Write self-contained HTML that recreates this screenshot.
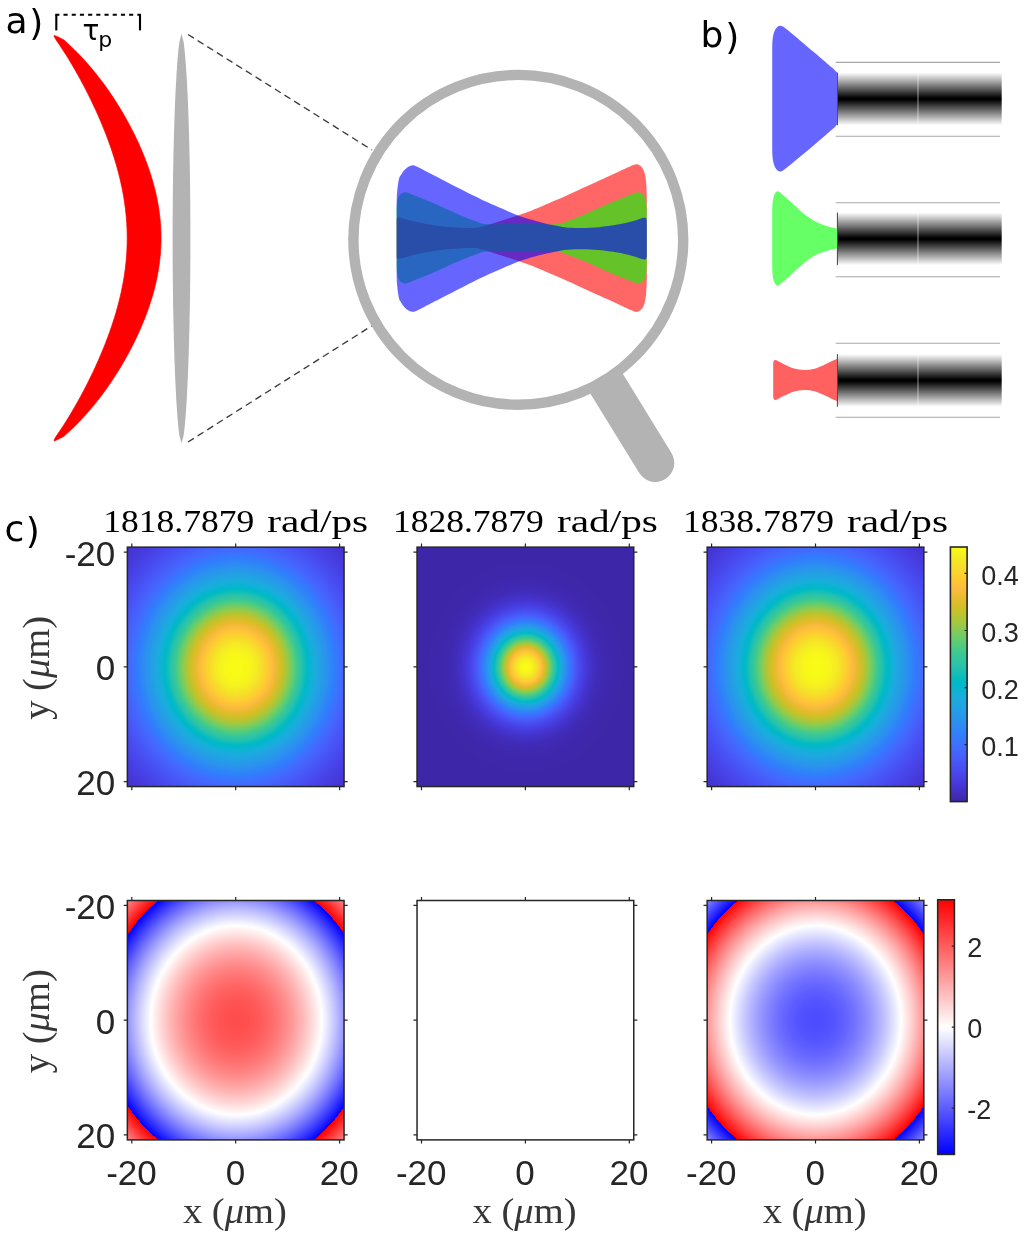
<!DOCTYPE html>
<html><head><meta charset="utf-8"><title>figure</title>
<style>html,body{margin:0;padding:0;background:#fff;overflow:hidden}svg{display:block}text{white-space:pre}</style></head><body>
<svg width="1025" height="1241" viewBox="0 0 1025 1241">
<defs><linearGradient id="fib" x1="0" y1="0" x2="0" y2="1"><stop offset="0" stop-color="#fff"/><stop offset="0.485" stop-color="#000"/><stop offset="0.515" stop-color="#000"/><stop offset="1" stop-color="#fff"/></linearGradient>
<radialGradient id="g0" gradientUnits="userSpaceOnUse" cx="236.3" cy="667.35" r="161.05" gradientTransform="translate(236.3 667.35) scale(1 1.10443) translate(-236.3 -667.35)"><stop offset="0.0000" stop-color="#f9fb15"/><stop offset="0.0083" stop-color="#f9fb15"/><stop offset="0.0167" stop-color="#f9fb15"/><stop offset="0.0250" stop-color="#f9fa15"/><stop offset="0.0333" stop-color="#f9fa16"/><stop offset="0.0417" stop-color="#f9f916"/><stop offset="0.0500" stop-color="#f8f917"/><stop offset="0.0583" stop-color="#f8f817"/><stop offset="0.0667" stop-color="#f8f818"/><stop offset="0.0750" stop-color="#f8f719"/><stop offset="0.0833" stop-color="#f7f51b"/><stop offset="0.0917" stop-color="#f7f41c"/><stop offset="0.1000" stop-color="#f6f21e"/><stop offset="0.1083" stop-color="#f6f020"/><stop offset="0.1167" stop-color="#f5ee21"/><stop offset="0.1250" stop-color="#f5eb23"/><stop offset="0.1333" stop-color="#f5e924"/><stop offset="0.1417" stop-color="#f5e526"/><stop offset="0.1500" stop-color="#f5e228"/><stop offset="0.1583" stop-color="#f6de29"/><stop offset="0.1667" stop-color="#f8d92b"/><stop offset="0.1750" stop-color="#fad52d"/><stop offset="0.1833" stop-color="#fcd12f"/><stop offset="0.1917" stop-color="#fdcd32"/><stop offset="0.2000" stop-color="#fec834"/><stop offset="0.2083" stop-color="#fec438"/><stop offset="0.2167" stop-color="#fec03b"/><stop offset="0.2250" stop-color="#fcbc3d"/><stop offset="0.2333" stop-color="#f7ba3c"/><stop offset="0.2417" stop-color="#f1ba37"/><stop offset="0.2500" stop-color="#ebba31"/><stop offset="0.2583" stop-color="#e4bb2c"/><stop offset="0.2667" stop-color="#ddbd29"/><stop offset="0.2750" stop-color="#d5be28"/><stop offset="0.2833" stop-color="#ccc028"/><stop offset="0.2917" stop-color="#c3c22b"/><stop offset="0.3000" stop-color="#b8c431"/><stop offset="0.3083" stop-color="#adc638"/><stop offset="0.3167" stop-color="#a0c841"/><stop offset="0.3250" stop-color="#93ca4b"/><stop offset="0.3333" stop-color="#85cb55"/><stop offset="0.3417" stop-color="#77cc60"/><stop offset="0.3500" stop-color="#69cd6b"/><stop offset="0.3583" stop-color="#5ccc76"/><stop offset="0.3667" stop-color="#4ecc81"/><stop offset="0.3750" stop-color="#42ca8b"/><stop offset="0.3833" stop-color="#39c895"/><stop offset="0.3917" stop-color="#33c69d"/><stop offset="0.4000" stop-color="#2dc4a5"/><stop offset="0.4083" stop-color="#26c2ac"/><stop offset="0.4167" stop-color="#1cc0b3"/><stop offset="0.4250" stop-color="#10beba"/><stop offset="0.4333" stop-color="#06bcc0"/><stop offset="0.4417" stop-color="#01b9c6"/><stop offset="0.4500" stop-color="#02b7cb"/><stop offset="0.4583" stop-color="#07b5d0"/><stop offset="0.4667" stop-color="#0eb2d4"/><stop offset="0.4750" stop-color="#14b0d8"/><stop offset="0.4833" stop-color="#18addb"/><stop offset="0.4917" stop-color="#1babde"/><stop offset="0.5000" stop-color="#1da8e0"/><stop offset="0.5083" stop-color="#20a5e2"/><stop offset="0.5167" stop-color="#22a2e4"/><stop offset="0.5250" stop-color="#249fe5"/><stop offset="0.5333" stop-color="#259ce7"/><stop offset="0.5417" stop-color="#2699e9"/><stop offset="0.5500" stop-color="#2896eb"/><stop offset="0.5583" stop-color="#2a93ee"/><stop offset="0.5667" stop-color="#2c90f0"/><stop offset="0.5750" stop-color="#2d8cf3"/><stop offset="0.5833" stop-color="#2d89f5"/><stop offset="0.5917" stop-color="#2e85f8"/><stop offset="0.6000" stop-color="#2f82fa"/><stop offset="0.6083" stop-color="#307ffb"/><stop offset="0.6167" stop-color="#327bfc"/><stop offset="0.6250" stop-color="#3678fe"/><stop offset="0.6333" stop-color="#3974fe"/><stop offset="0.6417" stop-color="#3c71ff"/><stop offset="0.6500" stop-color="#3f6eff"/><stop offset="0.6583" stop-color="#416bfe"/><stop offset="0.6667" stop-color="#4369fe"/><stop offset="0.6750" stop-color="#4466fd"/><stop offset="0.6833" stop-color="#4564fd"/><stop offset="0.6917" stop-color="#4561fc"/><stop offset="0.7000" stop-color="#465ffb"/><stop offset="0.7083" stop-color="#465dfa"/><stop offset="0.7167" stop-color="#475bf9"/><stop offset="0.7250" stop-color="#4759f8"/><stop offset="0.7333" stop-color="#4756f7"/><stop offset="0.7417" stop-color="#4854f6"/><stop offset="0.7500" stop-color="#4852f4"/><stop offset="0.7583" stop-color="#4851f3"/><stop offset="0.7667" stop-color="#484ff2"/><stop offset="0.7750" stop-color="#484df0"/><stop offset="0.7833" stop-color="#484bef"/><stop offset="0.7917" stop-color="#4849ed"/><stop offset="0.8000" stop-color="#4848ec"/><stop offset="0.8083" stop-color="#4746ea"/><stop offset="0.8167" stop-color="#4745e9"/><stop offset="0.8250" stop-color="#4743e7"/><stop offset="0.8333" stop-color="#4742e6"/><stop offset="0.8417" stop-color="#4740e4"/><stop offset="0.8500" stop-color="#473fe2"/><stop offset="0.8583" stop-color="#463ee1"/><stop offset="0.8667" stop-color="#463cdf"/><stop offset="0.8750" stop-color="#463bdd"/><stop offset="0.8833" stop-color="#463adb"/><stop offset="0.8917" stop-color="#4639d9"/><stop offset="0.9000" stop-color="#4538d7"/><stop offset="0.9083" stop-color="#4537d6"/><stop offset="0.9167" stop-color="#4536d4"/><stop offset="0.9250" stop-color="#4535d2"/><stop offset="0.9333" stop-color="#4435d0"/><stop offset="0.9417" stop-color="#4434ce"/><stop offset="0.9500" stop-color="#4433cd"/><stop offset="0.9583" stop-color="#4433cb"/><stop offset="0.9667" stop-color="#4332ca"/><stop offset="0.9750" stop-color="#4331c8"/><stop offset="0.9833" stop-color="#4331c7"/><stop offset="0.9917" stop-color="#4330c5"/><stop offset="1.0000" stop-color="#4230c4"/></radialGradient>
<radialGradient id="g1" gradientUnits="userSpaceOnUse" cx="526" cy="667.15" r="161.05" gradientTransform="translate(526 667.15) scale(1 1.07500) translate(-526 -667.15)"><stop offset="0.0000" stop-color="#f9fb15"/><stop offset="0.0083" stop-color="#f9fb15"/><stop offset="0.0167" stop-color="#f9fb15"/><stop offset="0.0250" stop-color="#f8f917"/><stop offset="0.0333" stop-color="#f7f51b"/><stop offset="0.0417" stop-color="#f6f11f"/><stop offset="0.0500" stop-color="#f5eb23"/><stop offset="0.0583" stop-color="#f5e526"/><stop offset="0.0667" stop-color="#f6de29"/><stop offset="0.0750" stop-color="#fad52d"/><stop offset="0.0833" stop-color="#fdcc32"/><stop offset="0.0917" stop-color="#fec338"/><stop offset="0.1000" stop-color="#fabb3d"/><stop offset="0.1083" stop-color="#ecba32"/><stop offset="0.1167" stop-color="#dabd28"/><stop offset="0.1250" stop-color="#c5c22a"/><stop offset="0.1333" stop-color="#acc739"/><stop offset="0.1417" stop-color="#91ca4d"/><stop offset="0.1500" stop-color="#73cd62"/><stop offset="0.1583" stop-color="#59cc79"/><stop offset="0.1667" stop-color="#41ca8c"/><stop offset="0.1750" stop-color="#32c69e"/><stop offset="0.1833" stop-color="#26c2ad"/><stop offset="0.1917" stop-color="#0fbebb"/><stop offset="0.2000" stop-color="#01b9c7"/><stop offset="0.2083" stop-color="#0cb3d3"/><stop offset="0.2167" stop-color="#19acdd"/><stop offset="0.2250" stop-color="#20a4e3"/><stop offset="0.2333" stop-color="#259ce7"/><stop offset="0.2417" stop-color="#2995ec"/><stop offset="0.2500" stop-color="#2d8df3"/><stop offset="0.2583" stop-color="#2e84f8"/><stop offset="0.2667" stop-color="#327cfc"/><stop offset="0.2750" stop-color="#3974fe"/><stop offset="0.2833" stop-color="#406cfe"/><stop offset="0.2917" stop-color="#4465fd"/><stop offset="0.3000" stop-color="#465ffb"/><stop offset="0.3083" stop-color="#4759f8"/><stop offset="0.3167" stop-color="#4853f5"/><stop offset="0.3250" stop-color="#484ef1"/><stop offset="0.3333" stop-color="#484aed"/><stop offset="0.3417" stop-color="#4745e9"/><stop offset="0.3500" stop-color="#4741e5"/><stop offset="0.3583" stop-color="#463ee1"/><stop offset="0.3667" stop-color="#463bdc"/><stop offset="0.3750" stop-color="#4538d7"/><stop offset="0.3833" stop-color="#4536d3"/><stop offset="0.3917" stop-color="#4434ce"/><stop offset="0.4000" stop-color="#4332ca"/><stop offset="0.4083" stop-color="#4331c6"/><stop offset="0.4167" stop-color="#422fc2"/><stop offset="0.4250" stop-color="#422ebf"/><stop offset="0.4333" stop-color="#412dbc"/><stop offset="0.4417" stop-color="#412cba"/><stop offset="0.4500" stop-color="#402bb8"/><stop offset="0.4583" stop-color="#402bb6"/><stop offset="0.4667" stop-color="#402ab4"/><stop offset="0.4750" stop-color="#3f29b2"/><stop offset="0.4833" stop-color="#3f29b1"/><stop offset="0.4917" stop-color="#3f29b0"/><stop offset="0.5000" stop-color="#3f28ae"/><stop offset="0.5083" stop-color="#3f28ae"/><stop offset="0.5167" stop-color="#3f28ad"/><stop offset="0.5250" stop-color="#3e27ac"/><stop offset="0.5333" stop-color="#3e27ab"/><stop offset="0.5417" stop-color="#3e27ab"/><stop offset="0.5500" stop-color="#3e27aa"/><stop offset="0.5583" stop-color="#3e27aa"/><stop offset="0.5667" stop-color="#3e27aa"/><stop offset="0.5750" stop-color="#3e27aa"/><stop offset="0.5833" stop-color="#3e27a9"/><stop offset="0.5917" stop-color="#3e27a9"/><stop offset="0.6000" stop-color="#3e27a9"/><stop offset="0.6083" stop-color="#3e26a9"/><stop offset="0.6167" stop-color="#3e26a9"/><stop offset="0.6250" stop-color="#3e26a9"/><stop offset="0.6333" stop-color="#3e26a9"/><stop offset="0.6417" stop-color="#3e26a8"/><stop offset="0.6500" stop-color="#3e26a8"/><stop offset="0.6583" stop-color="#3e26a8"/><stop offset="0.6667" stop-color="#3e26a8"/><stop offset="0.6750" stop-color="#3e26a8"/><stop offset="0.6833" stop-color="#3e26a8"/><stop offset="0.6917" stop-color="#3e26a8"/><stop offset="0.7000" stop-color="#3e26a8"/><stop offset="0.7083" stop-color="#3e26a8"/><stop offset="0.7167" stop-color="#3e26a8"/><stop offset="0.7250" stop-color="#3e26a8"/><stop offset="0.7333" stop-color="#3e26a8"/><stop offset="0.7417" stop-color="#3e26a8"/><stop offset="0.7500" stop-color="#3e26a8"/><stop offset="0.7583" stop-color="#3e26a8"/><stop offset="0.7667" stop-color="#3e26a8"/><stop offset="0.7750" stop-color="#3e26a8"/><stop offset="0.7833" stop-color="#3e26a8"/><stop offset="0.7917" stop-color="#3e26a8"/><stop offset="0.8000" stop-color="#3e26a8"/><stop offset="0.8083" stop-color="#3e26a8"/><stop offset="0.8167" stop-color="#3e26a8"/><stop offset="0.8250" stop-color="#3e26a8"/><stop offset="0.8333" stop-color="#3e26a8"/><stop offset="0.8417" stop-color="#3e26a8"/><stop offset="0.8500" stop-color="#3e26a8"/><stop offset="0.8583" stop-color="#3e26a8"/><stop offset="0.8667" stop-color="#3e26a8"/><stop offset="0.8750" stop-color="#3e26a8"/><stop offset="0.8833" stop-color="#3e26a8"/><stop offset="0.8917" stop-color="#3e26a8"/><stop offset="0.9000" stop-color="#3e26a8"/><stop offset="0.9083" stop-color="#3e26a8"/><stop offset="0.9167" stop-color="#3e26a8"/><stop offset="0.9250" stop-color="#3e26a8"/><stop offset="0.9333" stop-color="#3e26a8"/><stop offset="0.9417" stop-color="#3e26a8"/><stop offset="0.9500" stop-color="#3e26a8"/><stop offset="0.9583" stop-color="#3e26a8"/><stop offset="0.9667" stop-color="#3e26a8"/><stop offset="0.9750" stop-color="#3e26a8"/><stop offset="0.9833" stop-color="#3e26a8"/><stop offset="0.9917" stop-color="#3e26a8"/><stop offset="1.0000" stop-color="#3e26a8"/></radialGradient>
<radialGradient id="g2" gradientUnits="userSpaceOnUse" cx="816" cy="666.65" r="161.05" gradientTransform="translate(816 666.65) scale(1 1.10443) translate(-816 -666.65)"><stop offset="0.0000" stop-color="#f9fb15"/><stop offset="0.0083" stop-color="#f9fb15"/><stop offset="0.0167" stop-color="#f9fb15"/><stop offset="0.0250" stop-color="#f9fa15"/><stop offset="0.0333" stop-color="#f9fa16"/><stop offset="0.0417" stop-color="#f9f916"/><stop offset="0.0500" stop-color="#f8f917"/><stop offset="0.0583" stop-color="#f8f817"/><stop offset="0.0667" stop-color="#f8f818"/><stop offset="0.0750" stop-color="#f8f719"/><stop offset="0.0833" stop-color="#f7f51b"/><stop offset="0.0917" stop-color="#f7f41c"/><stop offset="0.1000" stop-color="#f6f21e"/><stop offset="0.1083" stop-color="#f6f020"/><stop offset="0.1167" stop-color="#f5ee21"/><stop offset="0.1250" stop-color="#f5eb23"/><stop offset="0.1333" stop-color="#f5e924"/><stop offset="0.1417" stop-color="#f5e526"/><stop offset="0.1500" stop-color="#f5e228"/><stop offset="0.1583" stop-color="#f6de29"/><stop offset="0.1667" stop-color="#f8d92b"/><stop offset="0.1750" stop-color="#fad52d"/><stop offset="0.1833" stop-color="#fcd12f"/><stop offset="0.1917" stop-color="#fdcd32"/><stop offset="0.2000" stop-color="#fec834"/><stop offset="0.2083" stop-color="#fec438"/><stop offset="0.2167" stop-color="#fec03b"/><stop offset="0.2250" stop-color="#fcbc3d"/><stop offset="0.2333" stop-color="#f7ba3c"/><stop offset="0.2417" stop-color="#f1ba37"/><stop offset="0.2500" stop-color="#ebba31"/><stop offset="0.2583" stop-color="#e4bb2c"/><stop offset="0.2667" stop-color="#ddbd29"/><stop offset="0.2750" stop-color="#d5be28"/><stop offset="0.2833" stop-color="#ccc028"/><stop offset="0.2917" stop-color="#c3c22b"/><stop offset="0.3000" stop-color="#b8c431"/><stop offset="0.3083" stop-color="#adc638"/><stop offset="0.3167" stop-color="#a0c841"/><stop offset="0.3250" stop-color="#93ca4b"/><stop offset="0.3333" stop-color="#85cb55"/><stop offset="0.3417" stop-color="#77cc60"/><stop offset="0.3500" stop-color="#69cd6b"/><stop offset="0.3583" stop-color="#5ccc76"/><stop offset="0.3667" stop-color="#4ecc81"/><stop offset="0.3750" stop-color="#42ca8b"/><stop offset="0.3833" stop-color="#39c895"/><stop offset="0.3917" stop-color="#33c69d"/><stop offset="0.4000" stop-color="#2dc4a5"/><stop offset="0.4083" stop-color="#26c2ac"/><stop offset="0.4167" stop-color="#1cc0b3"/><stop offset="0.4250" stop-color="#10beba"/><stop offset="0.4333" stop-color="#06bcc0"/><stop offset="0.4417" stop-color="#01b9c6"/><stop offset="0.4500" stop-color="#02b7cb"/><stop offset="0.4583" stop-color="#07b5d0"/><stop offset="0.4667" stop-color="#0eb2d4"/><stop offset="0.4750" stop-color="#14b0d8"/><stop offset="0.4833" stop-color="#18addb"/><stop offset="0.4917" stop-color="#1babde"/><stop offset="0.5000" stop-color="#1da8e0"/><stop offset="0.5083" stop-color="#20a5e2"/><stop offset="0.5167" stop-color="#22a2e4"/><stop offset="0.5250" stop-color="#249fe5"/><stop offset="0.5333" stop-color="#259ce7"/><stop offset="0.5417" stop-color="#2699e9"/><stop offset="0.5500" stop-color="#2896eb"/><stop offset="0.5583" stop-color="#2a93ee"/><stop offset="0.5667" stop-color="#2c90f0"/><stop offset="0.5750" stop-color="#2d8cf3"/><stop offset="0.5833" stop-color="#2d89f5"/><stop offset="0.5917" stop-color="#2e85f8"/><stop offset="0.6000" stop-color="#2f82fa"/><stop offset="0.6083" stop-color="#307ffb"/><stop offset="0.6167" stop-color="#327bfc"/><stop offset="0.6250" stop-color="#3678fe"/><stop offset="0.6333" stop-color="#3974fe"/><stop offset="0.6417" stop-color="#3c71ff"/><stop offset="0.6500" stop-color="#3f6eff"/><stop offset="0.6583" stop-color="#416bfe"/><stop offset="0.6667" stop-color="#4369fe"/><stop offset="0.6750" stop-color="#4466fd"/><stop offset="0.6833" stop-color="#4564fd"/><stop offset="0.6917" stop-color="#4561fc"/><stop offset="0.7000" stop-color="#465ffb"/><stop offset="0.7083" stop-color="#465dfa"/><stop offset="0.7167" stop-color="#475bf9"/><stop offset="0.7250" stop-color="#4759f8"/><stop offset="0.7333" stop-color="#4756f7"/><stop offset="0.7417" stop-color="#4854f6"/><stop offset="0.7500" stop-color="#4852f4"/><stop offset="0.7583" stop-color="#4851f3"/><stop offset="0.7667" stop-color="#484ff2"/><stop offset="0.7750" stop-color="#484df0"/><stop offset="0.7833" stop-color="#484bef"/><stop offset="0.7917" stop-color="#4849ed"/><stop offset="0.8000" stop-color="#4848ec"/><stop offset="0.8083" stop-color="#4746ea"/><stop offset="0.8167" stop-color="#4745e9"/><stop offset="0.8250" stop-color="#4743e7"/><stop offset="0.8333" stop-color="#4742e6"/><stop offset="0.8417" stop-color="#4740e4"/><stop offset="0.8500" stop-color="#473fe2"/><stop offset="0.8583" stop-color="#463ee1"/><stop offset="0.8667" stop-color="#463cdf"/><stop offset="0.8750" stop-color="#463bdd"/><stop offset="0.8833" stop-color="#463adb"/><stop offset="0.8917" stop-color="#4639d9"/><stop offset="0.9000" stop-color="#4538d7"/><stop offset="0.9083" stop-color="#4537d6"/><stop offset="0.9167" stop-color="#4536d4"/><stop offset="0.9250" stop-color="#4535d2"/><stop offset="0.9333" stop-color="#4435d0"/><stop offset="0.9417" stop-color="#4434ce"/><stop offset="0.9500" stop-color="#4433cd"/><stop offset="0.9583" stop-color="#4433cb"/><stop offset="0.9667" stop-color="#4332ca"/><stop offset="0.9750" stop-color="#4331c8"/><stop offset="0.9833" stop-color="#4331c7"/><stop offset="0.9917" stop-color="#4330c5"/><stop offset="1.0000" stop-color="#4230c4"/></radialGradient>
<radialGradient id="p0" gradientUnits="userSpaceOnUse" cx="236.2" cy="1020.2" r="161.05" gradientTransform="translate(236.2 1020.2) scale(1 1.10443) translate(-236.2 -1020.2)"><stop offset="0.0000" stop-color="#ff4d4d"/><stop offset="0.0083" stop-color="#ff4d4d"/><stop offset="0.0167" stop-color="#ff4d4d"/><stop offset="0.0250" stop-color="#ff4d4d"/><stop offset="0.0333" stop-color="#ff4e4e"/><stop offset="0.0417" stop-color="#ff4e4e"/><stop offset="0.0500" stop-color="#ff4e4e"/><stop offset="0.0583" stop-color="#ff4f4f"/><stop offset="0.0667" stop-color="#ff5050"/><stop offset="0.0750" stop-color="#ff5050"/><stop offset="0.0833" stop-color="#ff5151"/><stop offset="0.0917" stop-color="#ff5252"/><stop offset="0.1000" stop-color="#ff5353"/><stop offset="0.1083" stop-color="#ff5454"/><stop offset="0.1167" stop-color="#ff5555"/><stop offset="0.1250" stop-color="#ff5757"/><stop offset="0.1333" stop-color="#ff5858"/><stop offset="0.1417" stop-color="#ff5a5a"/><stop offset="0.1500" stop-color="#ff5b5b"/><stop offset="0.1583" stop-color="#ff5d5d"/><stop offset="0.1667" stop-color="#ff5e5e"/><stop offset="0.1750" stop-color="#ff6060"/><stop offset="0.1833" stop-color="#ff6262"/><stop offset="0.1917" stop-color="#ff6464"/><stop offset="0.2000" stop-color="#ff6666"/><stop offset="0.2083" stop-color="#ff6868"/><stop offset="0.2167" stop-color="#ff6b6b"/><stop offset="0.2250" stop-color="#ff6d6d"/><stop offset="0.2333" stop-color="#ff6f6f"/><stop offset="0.2417" stop-color="#ff7272"/><stop offset="0.2500" stop-color="#ff7474"/><stop offset="0.2583" stop-color="#ff7777"/><stop offset="0.2667" stop-color="#ff7a7a"/><stop offset="0.2750" stop-color="#ff7d7d"/><stop offset="0.2833" stop-color="#ff8080"/><stop offset="0.2917" stop-color="#ff8383"/><stop offset="0.3000" stop-color="#ff8686"/><stop offset="0.3083" stop-color="#ff8989"/><stop offset="0.3167" stop-color="#ff8c8c"/><stop offset="0.3250" stop-color="#ff9090"/><stop offset="0.3333" stop-color="#ff9393"/><stop offset="0.3417" stop-color="#ff9797"/><stop offset="0.3500" stop-color="#ff9a9a"/><stop offset="0.3583" stop-color="#ff9e9e"/><stop offset="0.3667" stop-color="#ffa2a2"/><stop offset="0.3750" stop-color="#ffa6a6"/><stop offset="0.3833" stop-color="#ffaaaa"/><stop offset="0.3917" stop-color="#ffaeae"/><stop offset="0.4000" stop-color="#ffb2b2"/><stop offset="0.4083" stop-color="#ffb6b6"/><stop offset="0.4167" stop-color="#ffbbbb"/><stop offset="0.4250" stop-color="#ffbfbf"/><stop offset="0.4333" stop-color="#ffc4c4"/><stop offset="0.4417" stop-color="#ffc8c8"/><stop offset="0.4500" stop-color="#ffcdcd"/><stop offset="0.4583" stop-color="#ffd2d2"/><stop offset="0.4667" stop-color="#ffd7d7"/><stop offset="0.4750" stop-color="#ffdcdc"/><stop offset="0.4833" stop-color="#ffe1e1"/><stop offset="0.4917" stop-color="#ffe6e6"/><stop offset="0.5000" stop-color="#ffebeb"/><stop offset="0.5083" stop-color="#fff0f0"/><stop offset="0.5167" stop-color="#fff6f6"/><stop offset="0.5250" stop-color="#fffbfb"/><stop offset="0.5333" stop-color="#fdfdff"/><stop offset="0.5417" stop-color="#f8f8ff"/><stop offset="0.5500" stop-color="#f2f2ff"/><stop offset="0.5583" stop-color="#ececff"/><stop offset="0.5667" stop-color="#e6e6ff"/><stop offset="0.5750" stop-color="#e0e0ff"/><stop offset="0.5833" stop-color="#dadaff"/><stop offset="0.5917" stop-color="#d4d4ff"/><stop offset="0.6000" stop-color="#cdcdff"/><stop offset="0.6083" stop-color="#c7c7ff"/><stop offset="0.6167" stop-color="#c1c1ff"/><stop offset="0.6250" stop-color="#babaff"/><stop offset="0.6333" stop-color="#b3b3ff"/><stop offset="0.6417" stop-color="#adadff"/><stop offset="0.6500" stop-color="#a6a6ff"/><stop offset="0.6583" stop-color="#9f9fff"/><stop offset="0.6667" stop-color="#9898ff"/><stop offset="0.6750" stop-color="#9191ff"/><stop offset="0.6833" stop-color="#8a8aff"/><stop offset="0.6917" stop-color="#8282ff"/><stop offset="0.7000" stop-color="#7b7bff"/><stop offset="0.7083" stop-color="#7474ff"/><stop offset="0.7167" stop-color="#6c6cff"/><stop offset="0.7250" stop-color="#6565ff"/><stop offset="0.7333" stop-color="#5d5dff"/><stop offset="0.7417" stop-color="#5555ff"/><stop offset="0.7500" stop-color="#4d4dff"/><stop offset="0.7583" stop-color="#4545ff"/><stop offset="0.7667" stop-color="#3d3dff"/><stop offset="0.7750" stop-color="#3535ff"/><stop offset="0.7833" stop-color="#2d2dff"/><stop offset="0.7917" stop-color="#2525ff"/><stop offset="0.8000" stop-color="#1c1cff"/><stop offset="0.8083" stop-color="#1414ff"/><stop offset="0.8167" stop-color="#0b0bff"/><stop offset="0.8250" stop-color="#0303ff"/><stop offset="0.8269" stop-color="#0000ff"/><stop offset="0.8279" stop-color="#ff0000"/><stop offset="0.8333" stop-color="#ff0606"/><stop offset="0.8417" stop-color="#ff0f0f"/><stop offset="0.8500" stop-color="#ff1818"/><stop offset="0.8583" stop-color="#ff2121"/><stop offset="0.8667" stop-color="#ff2a2a"/><stop offset="0.8750" stop-color="#ff3333"/><stop offset="0.8833" stop-color="#ff3d3d"/><stop offset="0.8917" stop-color="#ff4646"/><stop offset="0.9000" stop-color="#ff4f4f"/><stop offset="0.9083" stop-color="#ff5959"/><stop offset="0.9167" stop-color="#ff6262"/><stop offset="0.9250" stop-color="#ff6c6c"/><stop offset="0.9333" stop-color="#ff7676"/><stop offset="0.9417" stop-color="#ff8080"/><stop offset="0.9500" stop-color="#ff8a8a"/><stop offset="0.9583" stop-color="#ff9494"/><stop offset="0.9667" stop-color="#ff9e9e"/><stop offset="0.9750" stop-color="#ffa8a8"/><stop offset="0.9833" stop-color="#ffb3b3"/><stop offset="0.9917" stop-color="#ffbdbd"/><stop offset="1.0000" stop-color="#ffc8c8"/></radialGradient>
<radialGradient id="p2" gradientUnits="userSpaceOnUse" cx="815.5" cy="1020.2" r="161.05" gradientTransform="translate(815.5 1020.2) scale(1 1.10443) translate(-815.5 -1020.2)"><stop offset="0.0000" stop-color="#4d4dff"/><stop offset="0.0083" stop-color="#4d4dff"/><stop offset="0.0167" stop-color="#4d4dff"/><stop offset="0.0250" stop-color="#4d4dff"/><stop offset="0.0333" stop-color="#4e4eff"/><stop offset="0.0417" stop-color="#4e4eff"/><stop offset="0.0500" stop-color="#4e4eff"/><stop offset="0.0583" stop-color="#4f4fff"/><stop offset="0.0667" stop-color="#5050ff"/><stop offset="0.0750" stop-color="#5050ff"/><stop offset="0.0833" stop-color="#5151ff"/><stop offset="0.0917" stop-color="#5252ff"/><stop offset="0.1000" stop-color="#5353ff"/><stop offset="0.1083" stop-color="#5454ff"/><stop offset="0.1167" stop-color="#5555ff"/><stop offset="0.1250" stop-color="#5757ff"/><stop offset="0.1333" stop-color="#5858ff"/><stop offset="0.1417" stop-color="#5a5aff"/><stop offset="0.1500" stop-color="#5b5bff"/><stop offset="0.1583" stop-color="#5d5dff"/><stop offset="0.1667" stop-color="#5e5eff"/><stop offset="0.1750" stop-color="#6060ff"/><stop offset="0.1833" stop-color="#6262ff"/><stop offset="0.1917" stop-color="#6464ff"/><stop offset="0.2000" stop-color="#6666ff"/><stop offset="0.2083" stop-color="#6868ff"/><stop offset="0.2167" stop-color="#6b6bff"/><stop offset="0.2250" stop-color="#6d6dff"/><stop offset="0.2333" stop-color="#6f6fff"/><stop offset="0.2417" stop-color="#7272ff"/><stop offset="0.2500" stop-color="#7474ff"/><stop offset="0.2583" stop-color="#7777ff"/><stop offset="0.2667" stop-color="#7a7aff"/><stop offset="0.2750" stop-color="#7d7dff"/><stop offset="0.2833" stop-color="#8080ff"/><stop offset="0.2917" stop-color="#8383ff"/><stop offset="0.3000" stop-color="#8686ff"/><stop offset="0.3083" stop-color="#8989ff"/><stop offset="0.3167" stop-color="#8c8cff"/><stop offset="0.3250" stop-color="#9090ff"/><stop offset="0.3333" stop-color="#9393ff"/><stop offset="0.3417" stop-color="#9797ff"/><stop offset="0.3500" stop-color="#9a9aff"/><stop offset="0.3583" stop-color="#9e9eff"/><stop offset="0.3667" stop-color="#a2a2ff"/><stop offset="0.3750" stop-color="#a6a6ff"/><stop offset="0.3833" stop-color="#aaaaff"/><stop offset="0.3917" stop-color="#aeaeff"/><stop offset="0.4000" stop-color="#b2b2ff"/><stop offset="0.4083" stop-color="#b6b6ff"/><stop offset="0.4167" stop-color="#bbbbff"/><stop offset="0.4250" stop-color="#bfbfff"/><stop offset="0.4333" stop-color="#c4c4ff"/><stop offset="0.4417" stop-color="#c8c8ff"/><stop offset="0.4500" stop-color="#cdcdff"/><stop offset="0.4583" stop-color="#d2d2ff"/><stop offset="0.4667" stop-color="#d7d7ff"/><stop offset="0.4750" stop-color="#dcdcff"/><stop offset="0.4833" stop-color="#e1e1ff"/><stop offset="0.4917" stop-color="#e6e6ff"/><stop offset="0.5000" stop-color="#ebebff"/><stop offset="0.5083" stop-color="#f0f0ff"/><stop offset="0.5167" stop-color="#f6f6ff"/><stop offset="0.5250" stop-color="#fbfbff"/><stop offset="0.5333" stop-color="#fffdfd"/><stop offset="0.5417" stop-color="#fff8f8"/><stop offset="0.5500" stop-color="#fff2f2"/><stop offset="0.5583" stop-color="#ffecec"/><stop offset="0.5667" stop-color="#ffe6e6"/><stop offset="0.5750" stop-color="#ffe0e0"/><stop offset="0.5833" stop-color="#ffdada"/><stop offset="0.5917" stop-color="#ffd4d4"/><stop offset="0.6000" stop-color="#ffcdcd"/><stop offset="0.6083" stop-color="#ffc7c7"/><stop offset="0.6167" stop-color="#ffc1c1"/><stop offset="0.6250" stop-color="#ffbaba"/><stop offset="0.6333" stop-color="#ffb3b3"/><stop offset="0.6417" stop-color="#ffadad"/><stop offset="0.6500" stop-color="#ffa6a6"/><stop offset="0.6583" stop-color="#ff9f9f"/><stop offset="0.6667" stop-color="#ff9898"/><stop offset="0.6750" stop-color="#ff9191"/><stop offset="0.6833" stop-color="#ff8a8a"/><stop offset="0.6917" stop-color="#ff8282"/><stop offset="0.7000" stop-color="#ff7b7b"/><stop offset="0.7083" stop-color="#ff7474"/><stop offset="0.7167" stop-color="#ff6c6c"/><stop offset="0.7250" stop-color="#ff6565"/><stop offset="0.7333" stop-color="#ff5d5d"/><stop offset="0.7417" stop-color="#ff5555"/><stop offset="0.7500" stop-color="#ff4d4d"/><stop offset="0.7583" stop-color="#ff4545"/><stop offset="0.7667" stop-color="#ff3d3d"/><stop offset="0.7750" stop-color="#ff3535"/><stop offset="0.7833" stop-color="#ff2d2d"/><stop offset="0.7917" stop-color="#ff2525"/><stop offset="0.8000" stop-color="#ff1c1c"/><stop offset="0.8083" stop-color="#ff1414"/><stop offset="0.8167" stop-color="#ff0b0b"/><stop offset="0.8250" stop-color="#ff0303"/><stop offset="0.8269" stop-color="#ff0000"/><stop offset="0.8279" stop-color="#0000ff"/><stop offset="0.8333" stop-color="#0606ff"/><stop offset="0.8417" stop-color="#0f0fff"/><stop offset="0.8500" stop-color="#1818ff"/><stop offset="0.8583" stop-color="#2121ff"/><stop offset="0.8667" stop-color="#2a2aff"/><stop offset="0.8750" stop-color="#3333ff"/><stop offset="0.8833" stop-color="#3d3dff"/><stop offset="0.8917" stop-color="#4646ff"/><stop offset="0.9000" stop-color="#4f4fff"/><stop offset="0.9083" stop-color="#5959ff"/><stop offset="0.9167" stop-color="#6262ff"/><stop offset="0.9250" stop-color="#6c6cff"/><stop offset="0.9333" stop-color="#7676ff"/><stop offset="0.9417" stop-color="#8080ff"/><stop offset="0.9500" stop-color="#8a8aff"/><stop offset="0.9583" stop-color="#9494ff"/><stop offset="0.9667" stop-color="#9e9eff"/><stop offset="0.9750" stop-color="#a8a8ff"/><stop offset="0.9833" stop-color="#b3b3ff"/><stop offset="0.9917" stop-color="#bdbdff"/><stop offset="1.0000" stop-color="#c8c8ff"/></radialGradient>
<linearGradient id="cb1" x1="0" y1="1" x2="0" y2="0"><stop offset="0.0000" stop-color="#3e26a8"/><stop offset="0.0156" stop-color="#402ab4"/><stop offset="0.0312" stop-color="#422ebf"/><stop offset="0.0469" stop-color="#4332ca"/><stop offset="0.0625" stop-color="#4536d5"/><stop offset="0.0781" stop-color="#463bdd"/><stop offset="0.0938" stop-color="#4741e5"/><stop offset="0.1094" stop-color="#4746ea"/><stop offset="0.1250" stop-color="#484cef"/><stop offset="0.1406" stop-color="#4852f4"/><stop offset="0.1562" stop-color="#4757f7"/><stop offset="0.1719" stop-color="#475dfa"/><stop offset="0.1875" stop-color="#4562fc"/><stop offset="0.2031" stop-color="#4368fe"/><stop offset="0.2188" stop-color="#3f6efe"/><stop offset="0.2344" stop-color="#3a74fe"/><stop offset="0.2500" stop-color="#347afd"/><stop offset="0.2656" stop-color="#3080fa"/><stop offset="0.2812" stop-color="#2e85f8"/><stop offset="0.2969" stop-color="#2d8bf4"/><stop offset="0.3125" stop-color="#2c90f0"/><stop offset="0.3281" stop-color="#2895ec"/><stop offset="0.3438" stop-color="#269ae9"/><stop offset="0.3594" stop-color="#249ee6"/><stop offset="0.3750" stop-color="#21a3e3"/><stop offset="0.3906" stop-color="#1ea7e1"/><stop offset="0.4062" stop-color="#1aacdd"/><stop offset="0.4219" stop-color="#14b0d8"/><stop offset="0.4375" stop-color="#0cb3d3"/><stop offset="0.4531" stop-color="#04b6cd"/><stop offset="0.4688" stop-color="#01b9c6"/><stop offset="0.4844" stop-color="#07bcc0"/><stop offset="0.5000" stop-color="#12beb9"/><stop offset="0.5156" stop-color="#1ec0b2"/><stop offset="0.5312" stop-color="#28c2ab"/><stop offset="0.5469" stop-color="#2ec5a4"/><stop offset="0.5625" stop-color="#34c79c"/><stop offset="0.5781" stop-color="#3ac993"/><stop offset="0.5938" stop-color="#44ca8a"/><stop offset="0.6094" stop-color="#4fcc80"/><stop offset="0.6250" stop-color="#5ccc76"/><stop offset="0.6406" stop-color="#69cd6b"/><stop offset="0.6562" stop-color="#77cc60"/><stop offset="0.6719" stop-color="#85cb55"/><stop offset="0.6875" stop-color="#94ca4a"/><stop offset="0.7031" stop-color="#a2c840"/><stop offset="0.7188" stop-color="#afc637"/><stop offset="0.7344" stop-color="#bcc42f"/><stop offset="0.7500" stop-color="#c8c129"/><stop offset="0.7656" stop-color="#d4bf28"/><stop offset="0.7812" stop-color="#debc2a"/><stop offset="0.7969" stop-color="#e8bb2f"/><stop offset="0.8125" stop-color="#f1ba37"/><stop offset="0.8281" stop-color="#f9bb3d"/><stop offset="0.8438" stop-color="#febe3c"/><stop offset="0.8594" stop-color="#fec437"/><stop offset="0.8750" stop-color="#feca33"/><stop offset="0.8906" stop-color="#fcd030"/><stop offset="0.9062" stop-color="#f9d62d"/><stop offset="0.9219" stop-color="#f7dd2a"/><stop offset="0.9375" stop-color="#f5e327"/><stop offset="0.9531" stop-color="#f5e924"/><stop offset="0.9688" stop-color="#f6ef20"/><stop offset="0.9844" stop-color="#f7f51b"/><stop offset="1.0000" stop-color="#f9fb15"/></linearGradient>
<linearGradient id="cb2" x1="0" y1="1" x2="0" y2="0"><stop offset="0" stop-color="#0000ff"/><stop offset="0.5" stop-color="#ffffff"/><stop offset="1" stop-color="#ff0000"/></linearGradient></defs>
<g font-family='"DejaVu Sans", "Liberation Sans", sans-serif' font-size="36" fill="#000">
<text x="5.6" y="32.8">a<tspan dx="1.5" dy="2">)</tspan></text>
<text x="700.5" y="46.8">b<tspan dx="2" dy="2">)</tspan></text>
<text x="4.4" y="540.9">c<tspan dx="1.5" dy="2">)</tspan></text>
</g>
<path d="M56.3 30.4V14.7" stroke="#000" stroke-width="2.1" fill="none"/>
<path d="M140 30.4V14.7" stroke="#000" stroke-width="2.1" fill="none"/>
<path d="M55.3 14.7H141" stroke="#000" stroke-width="2.1" stroke-dasharray="4.1 4.1" fill="none"/>
<text x="82.5" y="40.4" font-family='"DejaVu Sans", "Liberation Sans", sans-serif' font-size="28" fill="#000">τ<tspan font-size="22" dx="-1.2" dy="6.6">p</tspan></text>
<path d="M54.5 35.4L57.6 36.8L60.7 38.3L63.95 40L69.39 44.95L74.54 49.91L79.42 54.86L84.06 59.81L88.48 64.77L92.69 69.72L96.71 74.68L100.56 79.63L104.25 84.58L107.8 89.54L111.2 94.49L114.47 99.45L117.62 104.4L120.65 109.35L123.57 114.31L126.38 119.26L129.08 124.21L131.68 129.17L134.18 134.12L136.57 139.07L138.86 144.03L141.04 148.98L143.13 153.94L145.1 158.89L146.97 163.84L148.74 168.8L150.39 173.75L151.93 178.7L153.36 183.66L154.67 188.61L155.86 193.57L156.93 198.52L157.88 203.47L158.71 208.43L159.42 213.38L159.99 218.34L160.44 223.29L160.77 228.24L160.96 233.2L161.02 238.15L160.96 243.1L160.77 248.06L160.44 253.01L159.99 257.97L159.42 262.92L158.71 267.87L157.88 272.83L156.93 277.78L155.86 282.73L154.67 287.69L153.36 292.64L151.93 297.6L150.39 302.55L148.74 307.5L146.97 312.46L145.1 317.41L143.13 322.36L141.04 327.32L138.86 332.27L136.57 337.23L134.18 342.18L131.68 347.13L129.08 352.09L126.38 357.04L123.57 361.99L120.65 366.95L117.62 371.9L114.47 376.86L111.2 381.81L107.8 386.76L104.25 391.72L100.56 396.67L96.71 401.62L92.69 406.58L88.48 411.53L84.06 416.49L79.42 421.44L74.54 426.39L69.39 431.35L63.95 436.3L60.7 438L57.6 439.5L54.5 440.9L53.9 440.4L54.7 438.7L56.19 436.3L59.57 431.35L62.83 426.39L66 421.44L69.07 416.49L72.04 411.53L74.94 406.58L77.75 401.62L80.48 396.67L83.14 391.72L85.73 386.76L88.25 381.81L90.69 376.86L93.07 371.9L95.38 366.95L97.62 361.99L99.79 357.04L101.89 352.09L103.92 347.13L105.88 342.18L107.76 337.23L109.57 332.27L111.3 327.32L112.95 322.36L114.52 317.41L116.01 312.46L117.41 307.5L118.73 302.55L119.96 297.6L121.1 292.64L122.14 287.69L123.09 282.73L123.95 277.78L124.7 272.83L125.36 267.87L125.92 262.92L126.38 257.97L126.74 253.01L127 248.06L127.15 243.1L127.2 238.15L127.15 233.2L127 228.24L126.74 223.29L126.38 218.34L125.92 213.38L125.36 208.43L124.7 203.47L123.95 198.52L123.09 193.57L122.14 188.61L121.1 183.66L119.96 178.7L118.73 173.75L117.41 168.8L116.01 163.84L114.52 158.89L112.95 153.94L111.3 148.98L109.57 144.03L107.76 139.07L105.88 134.12L103.92 129.17L101.89 124.21L99.79 119.26L97.62 114.31L95.38 109.35L93.07 104.4L90.69 99.45L88.25 94.49L85.73 89.54L83.14 84.58L80.48 79.63L77.75 74.68L74.94 69.72L72.04 64.77L69.07 59.81L66 54.86L62.83 49.91L59.57 44.95L56.19 40L54.7 37.6L53.9 35.9Z" fill="#ff0000" stroke="#ff0000" stroke-width="0.7" stroke-linejoin="round"/>
<path d="M181.5 33.8L183.64 42L184.62 50.19L185.37 58.39L185.99 66.58L186.52 74.78L186.99 82.98L187.41 91.17L187.79 99.37L188.13 107.56L188.43 115.76L188.71 123.96L188.96 132.15L189.19 140.35L189.39 148.54L189.57 156.74L189.73 164.94L189.88 173.13L190 181.33L190.11 189.52L190.2 197.72L190.27 205.92L190.33 214.11L190.37 222.31L190.39 230.5L190.4 238.7L190.39 246.9L190.37 255.09L190.33 263.29L190.27 271.48L190.2 279.68L190.11 287.88L190 296.07L189.88 304.27L189.73 312.46L189.57 320.66L189.39 328.86L189.19 337.05L188.96 345.25L188.71 353.44L188.43 361.64L188.13 369.84L187.79 378.03L187.41 386.23L186.99 394.42L186.52 402.62L185.99 410.82L185.37 419.01L184.62 427.21L183.64 435.4L181.5 443.6L179.36 435.4L178.38 427.21L177.63 419.01L177.01 410.82L176.48 402.62L176.01 394.42L175.59 386.23L175.21 378.03L174.87 369.84L174.57 361.64L174.29 353.44L174.04 345.25L173.81 337.05L173.61 328.86L173.43 320.66L173.27 312.46L173.12 304.27L173 296.07L172.89 287.88L172.8 279.68L172.73 271.48L172.67 263.29L172.63 255.09L172.61 246.9L172.6 238.7L172.61 230.5L172.63 222.31L172.67 214.11L172.73 205.92L172.8 197.72L172.89 189.52L173 181.33L173.12 173.13L173.27 164.94L173.43 156.74L173.61 148.54L173.81 140.35L174.04 132.15L174.29 123.96L174.57 115.76L174.87 107.56L175.21 99.37L175.59 91.17L176.01 82.98L176.48 74.78L177.01 66.58L177.63 58.39L178.38 50.19L179.36 42Z" fill="#b3b3b3"/>
<path d="M188 34.5L372 150" stroke="#3a3a3a" stroke-width="1.35" stroke-dasharray="6.9 4.5" fill="none"/>
<path d="M188 442L372 325.7" stroke="#3a3a3a" stroke-width="1.35" stroke-dasharray="6.9 4.5" fill="none"/>
<path d="M605.07 381.27L655.3 462.9" stroke="#b3b3b3" stroke-width="38" stroke-linecap="round" fill="none"/>
<circle cx="518.3" cy="239.8" r="164.9" fill="#fff" stroke="#b3b3b3" stroke-width="10.4"/>
<g fill-opacity="0.6">
<path d="M396.6 219.8C396.67 219.52 396.68 218.52 397 218.1C397.32 217.68 397.75 217.33 398.5 217.3C399.25 217.27 399.58 217.4 401.5 217.9C403.42 218.4 406.08 219.33 410 220.3C413.92 221.27 419.42 222.67 425 223.7C430.58 224.73 437.67 225.82 443.5 226.5C449.33 227.18 455.12 227.53 460 227.8C464.88 228.07 469.47 228.2 472.8 228.1C476.13 228 477.57 227.7 480 227.2C482.43 226.7 483.72 226.22 487.4 225.1C491.08 223.98 497.22 222.07 502.1 220.5C506.98 218.93 511.83 217.33 516.7 215.7C521.57 214.07 524.92 213.22 531.3 210.7C537.68 208.18 547.18 204.02 555 200.6C562.82 197.18 569.53 194.12 578.2 190.2C586.87 186.28 599.2 180.67 607 177.1C614.8 173.53 621 170.63 625 168.8C629 166.97 629.5 166.77 631 166.1C632.5 165.43 633.08 165.1 634 164.8C634.92 164.5 635.53 164.18 636.5 164.3C637.47 164.42 638.72 164.73 639.8 165.5C640.88 166.27 642.08 167.13 643 168.9C643.92 170.67 644.73 173.23 645.3 176.1C645.87 178.97 646.15 182.77 646.4 186.1C646.65 189.43 646.73 194.43 646.8 196.1L646.8 280.1C646.73 281.77 646.65 286.77 646.4 290.1C646.15 293.43 645.87 297.23 645.3 300.1C644.73 302.97 643.92 305.53 643 307.3C642.08 309.07 640.88 309.93 639.8 310.7C638.72 311.47 637.47 311.78 636.5 311.9C635.53 312.02 634.92 311.7 634 311.4C633.08 311.1 632.5 310.77 631 310.1C629.5 309.43 629 309.23 625 307.4C621 305.57 614.8 302.67 607 299.1C599.2 295.53 586.87 289.92 578.2 286C569.53 282.08 562.82 279.02 555 275.6C547.18 272.18 537.68 268.02 531.3 265.5C524.92 262.98 521.57 262.13 516.7 260.5C511.83 258.87 506.98 257.27 502.1 255.7C497.22 254.13 491.08 252.22 487.4 251.1C483.72 249.98 482.43 249.5 480 249C477.57 248.5 476.13 248.2 472.8 248.1C469.47 248 464.88 248.13 460 248.4C455.12 248.67 449.33 249.02 443.5 249.7C437.67 250.38 430.58 251.47 425 252.5C419.42 253.53 413.92 254.93 410 255.9C406.08 256.87 403.42 257.8 401.5 258.3C399.58 258.8 399.25 258.93 398.5 258.9C397.75 258.87 397.32 258.52 397 258.1C396.68 257.68 396.67 256.68 396.6 256.4Z" fill="#ff0000"/>
<path d="M396.6 209.9C396.7 208.57 396.82 204.15 397.2 201.9C397.58 199.65 398.12 197.83 398.9 196.4C399.68 194.97 400.82 193.98 401.9 193.3C402.98 192.62 404.32 192.33 405.4 192.3C406.48 192.27 407.07 192.63 408.4 193.1C409.73 193.57 411.23 194.23 413.4 195.1C415.57 195.97 417.73 196.8 421.4 198.3C425.07 199.8 431.23 202.3 435.4 204.1C439.57 205.9 442.07 207.17 446.4 209.1C450.73 211.03 456.4 213.63 461.4 215.7C466.4 217.77 473.07 220.23 476.4 221.5C479.73 222.77 479.07 222.8 481.4 223.3C483.73 223.8 486.23 224.37 490.4 224.5C494.57 224.63 501.23 224.2 506.4 224.1C511.57 224 516.4 223.9 521.4 223.9C526.4 223.9 531.23 224 536.4 224.1C541.57 224.2 548.23 224.63 552.4 224.5C556.57 224.37 559.07 223.8 561.4 223.3C563.73 222.8 563.07 222.77 566.4 221.5C569.73 220.23 576.39 217.77 581.4 215.7C586.41 213.63 592.12 211.03 596.48 209.1C600.84 207.17 603.36 205.9 607.57 204.1C611.77 202.3 617.99 199.8 621.7 198.3C625.4 196.8 627.59 195.97 629.78 195.1C631.98 194.23 633.49 193.57 634.84 193.1C636.19 192.63 636.78 192.27 637.88 192.3C638.98 192.33 640.33 192.62 641.43 193.3C642.52 193.98 643.67 194.97 644.47 196.4C645.26 197.83 645.8 199.65 646.19 201.9C646.58 204.15 646.7 208.57 646.8 209.9L646.8 265.9C646.7 267.23 646.58 271.65 646.19 273.9C645.8 276.15 645.26 277.97 644.47 279.4C643.67 280.83 642.52 281.82 641.43 282.5C640.33 283.18 638.98 283.47 637.88 283.5C636.78 283.53 636.19 283.17 634.84 282.7C633.49 282.23 631.98 281.57 629.78 280.7C627.59 279.83 625.4 279 621.7 277.5C617.99 276 611.77 273.5 607.57 271.7C603.36 269.9 600.84 268.63 596.48 266.7C592.12 264.77 586.41 262.17 581.4 260.1C576.39 258.03 569.73 255.57 566.4 254.3C563.07 253.03 563.73 253 561.4 252.5C559.07 252 556.57 251.43 552.4 251.3C548.23 251.17 541.57 251.6 536.4 251.7C531.23 251.8 526.4 251.9 521.4 251.9C516.4 251.9 511.57 251.8 506.4 251.7C501.23 251.6 494.57 251.17 490.4 251.3C486.23 251.43 483.73 252 481.4 252.5C479.07 253 479.73 253.03 476.4 254.3C473.07 255.57 466.4 258.03 461.4 260.1C456.4 262.17 450.73 264.77 446.4 266.7C442.07 268.63 439.57 269.9 435.4 271.7C431.23 273.5 425.07 276 421.4 277.5C417.73 279 415.57 279.83 413.4 280.7C411.23 281.57 409.73 282.23 408.4 282.7C407.07 283.17 406.48 283.53 405.4 283.5C404.32 283.47 402.98 283.18 401.9 282.5C400.82 281.82 399.68 280.83 398.9 279.4C398.12 277.97 397.58 276.15 397.2 273.9C396.82 271.65 396.7 267.23 396.6 265.9Z" fill="#00ff00"/>
<path d="M396.6 208.2C396.67 205.7 396.62 198.03 397 193.2C397.38 188.37 398.22 182.27 398.9 179.2C399.58 176.13 400.25 176.25 401.1 174.8C401.95 173.35 402.85 171.82 404 170.5C405.15 169.18 406.67 167.75 408 166.9C409.33 166.05 410.67 165.5 412 165.4C413.33 165.3 413.83 165.4 416 166.3C418.17 167.2 421 168.78 425 170.8C429 172.82 432.03 174.33 440 178.4C447.97 182.47 463.63 190.67 472.8 195.2C481.97 199.73 487.68 202.32 495 205.6C502.32 208.88 510.7 212.57 516.7 214.9C522.7 217.23 527.03 218.38 531 219.6C534.97 220.82 536.93 221.3 540.5 222.2C544.07 223.1 548.72 224.2 552.4 225C556.08 225.8 559.7 226.53 562.6 227C565.5 227.47 566.47 227.63 569.8 227.8C573.13 227.97 577.72 228.1 582.6 228C587.48 227.9 593.27 227.77 599.1 227.2C604.93 226.63 612.02 225.6 617.6 224.6C623.18 223.6 628.7 222.23 632.6 221.2C636.5 220.17 638.97 218.97 641 218.4C643.03 217.83 643.92 217.73 644.8 217.8C645.68 217.87 645.97 218.33 646.3 218.8C646.63 219.27 646.72 220.3 646.8 220.6L646.8 256.6C646.72 256.9 646.63 257.93 646.3 258.4C645.97 258.87 645.68 259.33 644.8 259.4C643.92 259.47 643.03 259.37 641 258.8C638.97 258.23 636.5 257.03 632.6 256C628.7 254.97 623.18 253.6 617.6 252.6C612.02 251.6 604.93 250.57 599.1 250C593.27 249.43 587.48 249.3 582.6 249.2C577.72 249.1 573.13 249.23 569.8 249.4C566.47 249.57 565.5 249.73 562.6 250.2C559.7 250.67 556.08 251.4 552.4 252.2C548.72 253 544.07 254.1 540.5 255C536.93 255.9 534.97 256.38 531 257.6C527.03 258.82 522.7 259.97 516.7 262.3C510.7 264.63 502.32 268.32 495 271.6C487.68 274.88 481.97 277.47 472.8 282C463.63 286.53 447.97 294.73 440 298.8C432.03 302.87 429 304.38 425 306.4C421 308.42 418.17 310 416 310.9C413.83 311.8 413.33 311.9 412 311.8C410.67 311.7 409.33 311.15 408 310.3C406.67 309.45 405.15 308.02 404 306.7C402.85 305.38 401.95 303.85 401.1 302.4C400.25 300.95 399.58 301.07 398.9 298C398.22 294.93 397.38 288.83 397 284C396.62 279.17 396.67 271.5 396.6 269Z" fill="#0000ff"/>
</g>
<rect x="837.1" y="72.6" width="164.6" height="52.6" fill="url(#fib)"/>
<path d="M835.7 62.35H1000M835.7 136.25H1000" stroke="#a8a8a8" stroke-width="1.1" fill="none"/>
<path d="M837.4 72.6V125.2" stroke="#444" stroke-width="1" fill="none"/>
<path d="M918 72.6V125.2" stroke="#fff" stroke-opacity="0.55" stroke-width="1" fill="none"/>
<rect x="837.1" y="212.5" width="164.6" height="52.6" fill="url(#fib)"/>
<path d="M835.7 202.8H1000M835.7 276.7H1000" stroke="#a8a8a8" stroke-width="1.1" fill="none"/>
<path d="M837.4 212.5V265.1" stroke="#444" stroke-width="1" fill="none"/>
<path d="M918 212.5V265.1" stroke="#fff" stroke-opacity="0.55" stroke-width="1" fill="none"/>
<rect x="837.1" y="354.1" width="164.6" height="52.6" fill="url(#fib)"/>
<path d="M835.7 343.3H1000M835.7 417.2H1000" stroke="#a8a8a8" stroke-width="1.1" fill="none"/>
<path d="M837.4 354.1V406.7" stroke="#444" stroke-width="1" fill="none"/>
<path d="M918 354.1V406.7" stroke="#fff" stroke-opacity="0.55" stroke-width="1" fill="none"/>
<path d="M772.2 48.6C772.25 47.27 772.3 42.93 772.5 40.6C772.7 38.27 772.98 36.37 773.4 34.6C773.82 32.83 774.32 31.3 775 30C775.68 28.7 776.63 27.52 777.5 26.8C778.37 26.08 779.28 25.73 780.2 25.7C781.12 25.67 781.87 25.95 783 26.6C784.13 27.25 784.17 27.3 787 29.6C789.83 31.9 795.33 36.5 800 40.4C804.67 44.3 810.67 49.33 815 53C819.33 56.67 823.17 59.97 826 62.4C828.83 64.83 830.42 66.17 832 67.6C833.58 69.03 834.65 70.17 835.5 71C836.35 71.83 836.83 72.33 837.1 72.6L837.1 124.6C836.83 124.87 836.35 125.37 835.5 126.2C834.65 127.03 833.58 128.17 832 129.6C830.42 131.03 828.83 132.37 826 134.8C823.17 137.23 819.33 140.53 815 144.2C810.67 147.87 804.67 152.9 800 156.8C795.33 160.7 789.83 165.3 787 167.6C784.17 169.9 784.13 169.95 783 170.6C781.87 171.25 781.12 171.53 780.2 171.5C779.28 171.47 778.37 171.12 777.5 170.4C776.63 169.68 775.68 168.5 775 167.2C774.32 165.9 773.82 164.37 773.4 162.6C772.98 160.83 772.7 158.93 772.5 156.6C772.3 154.27 772.25 149.93 772.2 148.6Z" fill="#6666ff"/>
<path d="M772.2 210.4C772.27 209.07 772.37 204.65 772.6 202.4C772.83 200.15 773.17 198.45 773.6 196.9C774.03 195.35 774.57 194.03 775.2 193.1C775.83 192.17 776.67 191.45 777.4 191.3C778.13 191.15 778.67 191.58 779.6 192.2C780.53 192.82 781.38 193.6 783 195C784.62 196.4 786.63 198.2 789.3 200.6C791.97 203 795.75 206.57 799 209.4C802.25 212.23 805.55 215.33 808.8 217.6C812.05 219.87 815.25 221.53 818.5 223C821.75 224.47 825.2 225.5 828.3 226.4C831.4 227.3 835.63 228.07 837.1 228.4L837.1 248.4C835.63 248.73 831.4 249.5 828.3 250.4C825.2 251.3 821.75 252.33 818.5 253.8C815.25 255.27 812.05 256.93 808.8 259.2C805.55 261.47 802.25 264.57 799 267.4C795.75 270.23 791.97 273.8 789.3 276.2C786.63 278.6 784.62 280.4 783 281.8C781.38 283.2 780.53 283.98 779.6 284.6C778.67 285.22 778.13 285.65 777.4 285.5C776.67 285.35 775.83 284.63 775.2 283.7C774.57 282.77 774.03 281.45 773.6 279.9C773.17 278.35 772.83 276.65 772.6 274.4C772.37 272.15 772.27 267.73 772.2 266.4Z" fill="#66ff66"/>
<path d="M773.2 365C773.23 364.5 773.25 362.75 773.4 362C773.55 361.25 773.77 360.83 774.1 360.5C774.43 360.17 774.75 359.92 775.4 360C776.05 360.08 776.5 360.27 778 361C779.5 361.73 781.72 363.13 784.4 364.4C787.08 365.67 790.85 367.67 794.1 368.6C797.35 369.53 800.63 369.93 803.9 370C807.17 370.07 810.45 369.8 813.7 369C816.95 368.2 820.52 366.43 823.4 365.2C826.28 363.97 828.72 362.67 831 361.6C833.28 360.53 836.08 359.27 837.1 358.8L837.1 401.2C836.08 400.73 833.28 399.47 831 398.4C828.72 397.33 826.28 396.03 823.4 394.8C820.52 393.57 816.95 391.8 813.7 391C810.45 390.2 807.17 389.93 803.9 390C800.63 390.07 797.35 390.47 794.1 391.4C790.85 392.33 787.08 394.33 784.4 395.6C781.72 396.87 779.5 398.27 778 399C776.5 399.73 776.05 399.92 775.4 400C774.75 400.08 774.43 399.83 774.1 399.5C773.77 399.17 773.55 398.75 773.4 398C773.25 397.25 773.23 395.5 773.2 395Z" fill="#ff6060"/>
<rect x="127.35" y="547.15" width="216.7" height="239.4" fill="url(#g0)"/>
<path d="M131.8 547.15v-3.6M131.8 786.55v3.6M127.35 552.1h-3.6M344.05 552.1h3.6M235.7 547.15v-3.6M235.7 786.55v3.6M127.35 666.85h-3.6M344.05 666.85h3.6M339.6 547.15v-3.6M339.6 786.55v3.6M127.35 781.6h-3.6M344.05 781.6h3.6" stroke="#262626" stroke-width="1.2" fill="none"/>
<rect x="127.35" y="547.15" width="216.7" height="239.4" fill="none" stroke="#262626" stroke-width="1.5"/>
<rect x="417.05" y="547.15" width="216.7" height="239.4" fill="url(#g1)"/>
<path d="M421.5 547.15v-3.6M421.5 786.55v3.6M417.05 552.1h-3.6M633.75 552.1h3.6M525.4 547.15v-3.6M525.4 786.55v3.6M417.05 666.85h-3.6M633.75 666.85h3.6M629.3 547.15v-3.6M629.3 786.55v3.6M417.05 781.6h-3.6M633.75 781.6h3.6" stroke="#262626" stroke-width="1.2" fill="none"/>
<rect x="417.05" y="547.15" width="216.7" height="239.4" fill="none" stroke="#262626" stroke-width="1.5"/>
<rect x="707.15" y="547.15" width="216.7" height="239.4" fill="url(#g2)"/>
<path d="M711.6 547.15v-3.6M711.6 786.55v3.6M707.15 552.1h-3.6M923.85 552.1h3.6M815.5 547.15v-3.6M815.5 786.55v3.6M707.15 666.85h-3.6M923.85 666.85h3.6M919.4 547.15v-3.6M919.4 786.55v3.6M707.15 781.6h-3.6M923.85 781.6h3.6" stroke="#262626" stroke-width="1.2" fill="none"/>
<rect x="707.15" y="547.15" width="216.7" height="239.4" fill="none" stroke="#262626" stroke-width="1.5"/>
<rect x="127.35" y="900.5" width="216.7" height="239.4" fill="url(#p0)"/>
<path d="M131.8 900.5v-3.6M131.8 1139.9v3.6M127.35 905.45h-3.6M344.05 905.45h3.6M235.7 900.5v-3.6M235.7 1139.9v3.6M127.35 1020.2h-3.6M344.05 1020.2h3.6M339.6 900.5v-3.6M339.6 1139.9v3.6M127.35 1134.95h-3.6M344.05 1134.95h3.6" stroke="#262626" stroke-width="1.2" fill="none"/>
<rect x="127.35" y="900.5" width="216.7" height="239.4" fill="none" stroke="#262626" stroke-width="1.5"/>
<rect x="417.05" y="900.5" width="216.7" height="239.4" fill="#fff"/>
<path d="M421.5 900.5v-3.6M421.5 1139.9v3.6M417.05 905.45h-3.6M633.75 905.45h3.6M525.4 900.5v-3.6M525.4 1139.9v3.6M417.05 1020.2h-3.6M633.75 1020.2h3.6M629.3 900.5v-3.6M629.3 1139.9v3.6M417.05 1134.95h-3.6M633.75 1134.95h3.6" stroke="#262626" stroke-width="1.2" fill="none"/>
<rect x="417.05" y="900.5" width="216.7" height="239.4" fill="none" stroke="#262626" stroke-width="1.5"/>
<rect x="707.15" y="900.5" width="216.7" height="239.4" fill="url(#p2)"/>
<path d="M711.6 900.5v-3.6M711.6 1139.9v3.6M707.15 905.45h-3.6M923.85 905.45h3.6M815.5 900.5v-3.6M815.5 1139.9v3.6M707.15 1020.2h-3.6M923.85 1020.2h3.6M919.4 900.5v-3.6M919.4 1139.9v3.6M707.15 1134.95h-3.6M923.85 1134.95h3.6" stroke="#262626" stroke-width="1.2" fill="none"/>
<rect x="707.15" y="900.5" width="216.7" height="239.4" fill="none" stroke="#262626" stroke-width="1.5"/>
<g font-family='"Liberation Sans", sans-serif' font-size="35" fill="#262626">
<text x="115.3" y="565.5" text-anchor="end">-20</text>
<text x="115.3" y="680.25" text-anchor="end">0</text>
<text x="115.3" y="795" text-anchor="end">20</text>
<text x="115.3" y="918.85" text-anchor="end">-20</text>
<text x="115.3" y="1033.6" text-anchor="end">0</text>
<text x="115.3" y="1148.35" text-anchor="end">20</text>
<text x="131.5" y="1185.2" text-anchor="middle">-20</text>
<text x="235.4" y="1185.2" text-anchor="middle">0</text>
<text x="339.3" y="1185.2" text-anchor="middle">20</text>
<text x="421.2" y="1185.2" text-anchor="middle">-20</text>
<text x="525.1" y="1185.2" text-anchor="middle">0</text>
<text x="629" y="1185.2" text-anchor="middle">20</text>
<text x="711.3" y="1185.2" text-anchor="middle">-20</text>
<text x="815.2" y="1185.2" text-anchor="middle">0</text>
<text x="919.1" y="1185.2" text-anchor="middle">20</text>
</g>
<text y="531.6" font-family='"Liberation Serif", serif' font-size="32" fill="#000"><tspan x="103.2" textLength="151" lengthAdjust="spacingAndGlyphs">1818.7879</tspan> <tspan x="267.2" textLength="101" lengthAdjust="spacingAndGlyphs">rad/ps</tspan></text>
<text y="531.6" font-family='"Liberation Serif", serif' font-size="32" fill="#000"><tspan x="392.9" textLength="151" lengthAdjust="spacingAndGlyphs">1828.7879</tspan> <tspan x="556.9" textLength="101" lengthAdjust="spacingAndGlyphs">rad/ps</tspan></text>
<text y="531.6" font-family='"Liberation Serif", serif' font-size="32" fill="#000"><tspan x="683" textLength="151" lengthAdjust="spacingAndGlyphs">1838.7879</tspan> <tspan x="847" textLength="101" lengthAdjust="spacingAndGlyphs">rad/ps</tspan></text>
<text x="234.9" y="1223.2" font-family='"Liberation Serif", serif' font-size="36" fill="#363636" text-anchor="middle" textLength="104" lengthAdjust="spacingAndGlyphs">x (<tspan font-style="italic">μ</tspan>m)</text>
<text x="524.6" y="1223.2" font-family='"Liberation Serif", serif' font-size="36" fill="#363636" text-anchor="middle" textLength="104" lengthAdjust="spacingAndGlyphs">x (<tspan font-style="italic">μ</tspan>m)</text>
<text x="814.7" y="1223.2" font-family='"Liberation Serif", serif' font-size="36" fill="#363636" text-anchor="middle" textLength="104" lengthAdjust="spacingAndGlyphs">x (<tspan font-style="italic">μ</tspan>m)</text>
<text transform="translate(48.5 667.85) rotate(-90)" font-family='"Liberation Serif", serif' font-size="37" fill="#363636" text-anchor="middle" textLength="104" lengthAdjust="spacingAndGlyphs">y (<tspan font-style="italic">μ</tspan>m)</text>
<text transform="translate(48.5 1021.2) rotate(-90)" font-family='"Liberation Serif", serif' font-size="37" fill="#363636" text-anchor="middle" textLength="104" lengthAdjust="spacingAndGlyphs">y (<tspan font-style="italic">μ</tspan>m)</text>
<rect x="950.4" y="547" width="16.7" height="254.6" fill="url(#cb1)" stroke="#262626" stroke-width="1.6"/>
<rect x="937.7" y="899.8" width="16.7" height="254.6" fill="url(#cb2)" stroke="#262626" stroke-width="1.6"/>
<g font-family='"Liberation Sans", sans-serif' font-size="27" fill="#262626">
<text x="981.2" y="584.52">0.4</text>
<text x="981.2" y="641.58">0.3</text>
<text x="981.2" y="698.64">0.2</text>
<text x="981.2" y="755.7">0.1</text>
<text x="967.2" y="957.36">2</text>
<text x="967.2" y="1038.4">0</text>
<text x="967.2" y="1119.44">-2</text>
</g>
<path d="M967.1 573.42h-2.6M967.1 630.48h-2.6M967.1 687.54h-2.6M967.1 744.6h-2.6M954.4 946.06h-2.6M954.4 1027.1h-2.6M954.4 1108.14h-2.6" stroke="#262626" stroke-width="1.2" fill="none"/>
</svg></body></html>
